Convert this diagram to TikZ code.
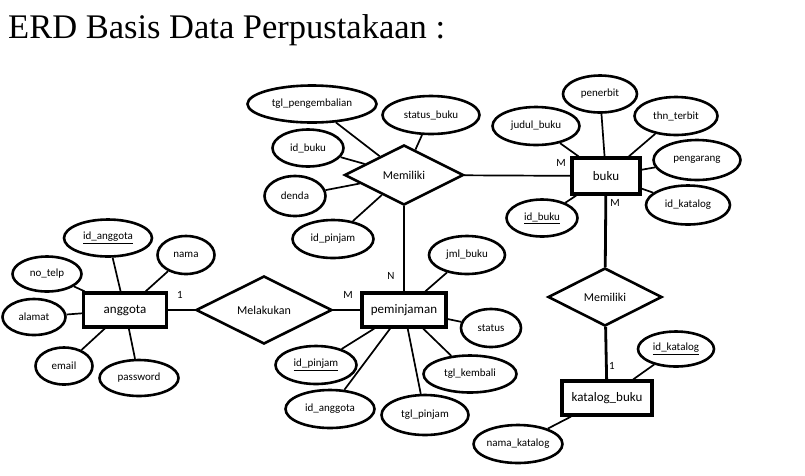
\documentclass[tikz,border=0pt]{standalone}
\usepackage{fontspec}
\setmainfont{Carlito}
\newfontfamily\titlefont{Liberation Serif}
\usetikzlibrary{shapes.geometric}
\begin{document}
\begin{tikzpicture}[x=1pt,y=-1pt,
  attr/.style={ellipse,draw,line width=2.6pt,inner sep=0pt,font=\fontsize{11}{12}\selectfont},
  ent/.style={rectangle,draw,line width=3.2pt,inner sep=0pt,font=\fontsize{13}{15}\selectfont},
  rel/.style={diamond,draw,line width=2.6pt,inner sep=0pt,font=\fontsize{12}{14}\selectfont},
  conn/.style={line width=1.7pt},
  bigconn/.style={line width=2.8pt},
  card/.style={font=\fontsize{11}{12}\selectfont}]
\useasboundingbox (0,0) rectangle (805,475);
\node[anchor=base west,font=\titlefont\fontsize{34.5}{36}\selectfont,inner sep=0pt] (title) at (8,38) {ERD Basis Data Perpustakaan :};
% entities
\node[ent,minimum width=83,minimum height=34] (anggota) at (125,310) {anggota};
\node[ent,minimum width=84,minimum height=34] (pem) at (404,310) {peminjaman};
\node[ent,minimum width=68,minimum height=36] (buku) at (606,176) {buku};
\node[ent,minimum width=90,minimum height=34] (kat) at (607,398) {katalog\_buku};
% relations
\node[rel,minimum width=136,minimum height=68] (mel) at (264,310) {Melakukan};
\node[rel,minimum width=119,minimum height=60] (mem1) at (404,175) {Memiliki};
\node[rel,minimum width=114,minimum height=58] (mem2) at (605,297) {Memiliki};
% attributes
\node[attr,minimum width=129,minimum height=37] (tglpeng) at (312,104) {tgl\_pengembalian};
\node[attr,minimum width=97,minimum height=38] (stbuku) at (431,115) {status\_buku};
\node[attr,minimum width=71,minimum height=37] (idbuku1) at (308,148) {id\_buku};
\node[attr,minimum width=61,minimum height=40] (denda) at (295,196) {denda};
\node[attr,minimum width=81,minimum height=38] (idpin1) at (333,239) {id\_pinjam};
\node[attr,minimum width=87,minimum height=38] (judul) at (536,126) {judul\_buku};
\node[attr,minimum width=74,minimum height=37] (penerbit) at (600,94) {penerbit};
\node[attr,minimum width=83,minimum height=38] (thn) at (676,116) {thn\_terbit};
\node[attr,minimum width=87,minimum height=40] (pengarang) at (697,160) {pengarang};
\node[attr,minimum width=84,minimum height=39] (idkat1) at (688,205) {id\_katalog};
\node[attr,minimum width=71,minimum height=37] (idbuku2) at (542,218) {\underline{id\_buku}};
\node[attr,minimum width=76,minimum height=38] (jml) at (467,255) {jml\_buku};
\node[attr,minimum width=88,minimum height=37] (idang1) at (108,238) {\underline{id\_anggota}};
\node[attr,minimum width=57,minimum height=38] (nama) at (186,255) {nama};
\node[attr,minimum width=69,minimum height=35] (notelp) at (47,274) {no\_telp};
\node[attr,minimum width=63,minimum height=36] (alamat) at (34,317) {alamat};
\node[attr,minimum width=57,minimum height=37] (email) at (64,366) {email};
\node[attr,minimum width=79,minimum height=36] (password) at (139,378) {password};
\node[attr,minimum width=81,minimum height=38] (idpin2) at (316,365) {\underline{id\_pinjam}};
\node[attr,minimum width=89,minimum height=38] (idang2) at (330,409) {id\_anggota};
\node[attr,minimum width=87,minimum height=40] (tglpin) at (425,415) {tgl\_pinjam};
\node[attr,minimum width=93,minimum height=37] (tglkem) at (470,374) {tgl\_kembali};
\node[attr,minimum width=60,minimum height=38] (status) at (491,328) {status};
\node[attr,minimum width=76,minimum height=35] (idkat2) at (676,349) {\underline{id\_katalog}};
\node[attr,minimum width=87,minimum height=38] (namakat) at (518,444) {nama\_katalog};
% main connectors
\draw[conn] (anggota) -- (mel);
\draw[conn] (mel) -- (pem);
\draw[bigconn] (mem1) -- (pem);
\draw[conn] (mem1) -- (buku);
\draw[bigconn] (buku) -- (mem2);
\draw[bigconn] (mem2) -- (kat);
% attribute connectors
\foreach \a in {tglpeng,stbuku,idbuku1,denda,idpin1} \draw[conn] (\a) -- (mem1);
\foreach \a in {judul,penerbit,thn,pengarang,idkat1,idbuku2} \draw[conn] (\a) -- (buku);
\foreach \a in {idang1,nama,notelp,alamat,email,password} \draw[conn] (\a) -- (anggota);
\foreach \a in {jml,status,tglkem,tglpin,idang2,idpin2} \draw[conn] (\a) -- (pem);
\foreach \a in {idkat2,namakat} \draw[conn] (\a) -- (kat);
% cardinalities
\node[card] (c1) at (180,295) {1};
\node[card] (c2) at (348,295) {M};
\node[card] (c3) at (391,276) {N};
\node[card] (c4) at (561,163) {M};
\node[card] (c5) at (615,203) {M};
\node[card] (c6) at (612,366) {1};
\end{tikzpicture}
\end{document}
